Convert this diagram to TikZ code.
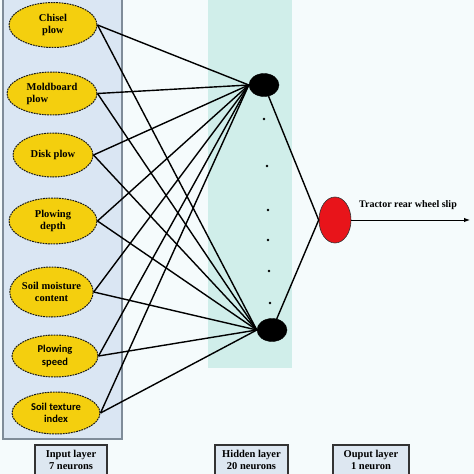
\documentclass[tikz,border=0pt]{standalone}
\usepackage{fontspec}
\setmainfont{Liberation Serif}
\newfontfamily\calibfont{Carlito}
\usetikzlibrary{arrows.meta,shapes.geometric}
\definecolor{bg}{HTML}{F5FBFC}
\definecolor{inpanel}{HTML}{DAE6F3}
\definecolor{inborder}{HTML}{7F8C99}
\definecolor{hidpanel}{HTML}{D0EEEA}
\definecolor{neuronyellow}{HTML}{F4CF0E}
\definecolor{outred}{HTML}{E8141A}
\definecolor{boxfill}{HTML}{DDE7F1}
\begin{document}
\begin{tikzpicture}[x=1pt,y=-1pt,
  inp/.style={ellipse, draw=black!90, dash pattern=on 1.8pt off 0.9pt, line width=1pt,
    fill=neuronyellow, inner sep=0pt, align=center,
    font=\bfseries\fontsize{10.5}{12}\selectfont},
  hid/.style={ellipse, fill=black, draw=black, inner sep=0pt, minimum width=30pt, minimum height=23pt},
  outn/.style={ellipse, fill=outred, draw=black!80, line width=0.6pt, inner sep=0pt, minimum width=32pt, minimum height=46pt},
  conn/.style={line width=1.4pt, black},
  dotn/.style={circle, fill=black, inner sep=0pt, minimum size=2.8pt},
  layerbox/.style={draw=black!80, line width=1.3pt, fill=boxfill},
  layertext/.style={anchor=north, align=center, inner sep=0pt,
    font=\bfseries\fontsize{10.5}{12}\selectfont}
]
\useasboundingbox (0,0) rectangle (474,474);
\clip (0,0) rectangle (474,474);
\fill[bg] (0,0) rectangle (474,474);
% panels
\draw[fill=inpanel, draw=inborder, line width=1.2pt] (3,-10) rectangle (122,439);
\fill[hidpanel] (208,-10) rectangle (292,368);
% input neurons
\node[inp, minimum width=88pt, minimum height=45pt] (i1) at (53,25) {Chisel\\plow};
\node[inp, minimum width=90pt, minimum height=43pt, align=left] (i2) at (52,93.5) {Moldboard\\plow};
\node[inp, minimum width=80pt, minimum height=44pt] (i3) at (53,155) {Disk plow};
\node[inp, minimum width=88pt, minimum height=46pt] (i4) at (53,221) {Plowing\\depth};
\node[inp, minimum width=79pt, minimum height=50pt] (i5) at (51.5,292) {Soil moisture\\content};
\node[inp, minimum width=86pt, minimum height=42pt, font=\calibfont\bfseries\fontsize{10.5}{12.5}\selectfont] (i6) at (55,356) {Plowing\\speed};
\node[inp, minimum width=88pt, minimum height=42pt, font=\calibfont\bfseries\fontsize{10.5}{12.5}\selectfont] (i7) at (56,413) {Soil texture\\index};
% hidden neurons
\node[hid] (h1) at (264,85) {};
\node[hid] (h2) at (272,330) {};
\foreach \n/\p in {d1/{(264,119)},d2/{(267,166)},d3/{(268,210)},d4/{(268,240)},d5/{(269,271)},d6/{(270,303)}}
  \node[dotn] (\n) at \p {};
% output neuron
\node[outn] (o) at (335,220) {};
\coordinate (tip) at (470,220);
% connectors
\foreach \i in {i1,i2,i3,i4,i5,i6,i7}{
  \draw[conn] (\i.east) -- (h1.west);
  \draw[conn] (\i.east) -- (h2.west);
}
\draw[conn] (h1) -- (o.west);
\draw[conn] (h2) -- (o.west);
\draw[conn, line width=1pt, -{Latex[length=6pt,width=4.5pt]}] (o.east) -- (tip);
\node[font=\bfseries\fontsize{10}{11}\selectfont] (lbl) at (408,205) {Tractor rear wheel slip};
% layer boxes
\draw[layerbox] (35,445) rectangle (107,495);
\draw[layerbox] (215,445) rectangle (288,495);
\draw[layerbox] (333,445) rectangle (409,495);
\node[layertext] (b1) at (71,450.5) {Input layer\\7 neurons};
\node[layertext] (b2) at (251.5,450.5) {Hidden layer\\20 neurons};
\node[layertext] (b3) at (371,450.5) {Ouput layer\\1 neuron};
\end{tikzpicture}
\end{document}
